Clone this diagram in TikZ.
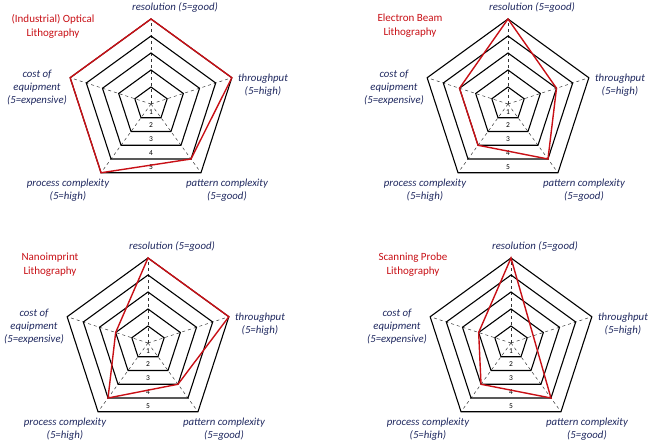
\documentclass[tikz,border=0pt]{standalone}
\usepackage{fontspec}
\setmainfont{Carlito}
\definecolor{navy}{RGB}{31,40,95}
\definecolor{redl}{RGB}{200,16,22}
\tikzset{
  ring/.style={line width=1.1pt,black},
  spoke/.style={dashed,line width=0.5pt,black!80},
  axlab/.style={font=\fontsize{10.8}{13}\selectfont\itshape,text=navy,align=center,inner sep=0pt},
  ttl/.style={font=\fontsize{11}{14}\selectfont,text=redl,align=center,inner sep=0pt},
  num/.style={font=\fontsize{7.5}{8}\selectfont,inner sep=0pt},
  val/.style={redl,line width=1.4pt,line join=miter}
}
\newcommand{\radarchart}[4]{%
\begin{scope}[shift={(#1,#2)}]
  \foreach \a in {90,18,-54,-126,162} \draw[spoke] (0,0) -- (\a:85);
  \foreach \k in {1,...,5} \draw[ring] (90:17*\k) -- (18:17*\k) -- (-54:17*\k) -- (-126:17*\k) -- (162:17*\k) -- cycle;
  \foreach \k in {1,...,5} \node[num] at (0,{-13.75*\k+6}) {\k};
  \node[axlab] at (24,97) {resolution (5=good)};
  \node[axlab] at (112,19) {throughput\\(5=high)};
  \node[axlab] at (-114,16) {cost of\\equipment\\(5=expensive)};
  \node[axlab] at (-83,-86) {process complexity\\(5=high)};
  \node[axlab] at (76,-86) {pattern complexity\\(5=good)};
  \node[ttl] at (-98,78) {#3};
  \draw[val] #4;
\end{scope}}
\begin{document}
\begin{tikzpicture}[x=1pt,y=1pt]
\useasboundingbox (0,0) rectangle (653,442);
\radarchart{151}{338}{(Industrial) Optical\\Lithography}{(90:85) -- (18:85) -- (-54:68) -- (-126:85) -- (162:85) -- cycle}
\radarchart{508}{338}{Electron Beam\\Lithography}{(90:85) -- (18:51) -- (-54:68) -- (-126:51) -- (162:51) -- cycle}
\radarchart{148}{99}{Nanoimprint\\Lithography}{(90:85) -- (18:85) -- (-54:51) -- (-126:68) -- (162:34) -- cycle}
\radarchart{511}{99}{Scanning Probe\\Lithography}{(90:85) -- (-54:68) -- (-126:51) -- (162:34) -- cycle}
\end{tikzpicture}
\end{document}
